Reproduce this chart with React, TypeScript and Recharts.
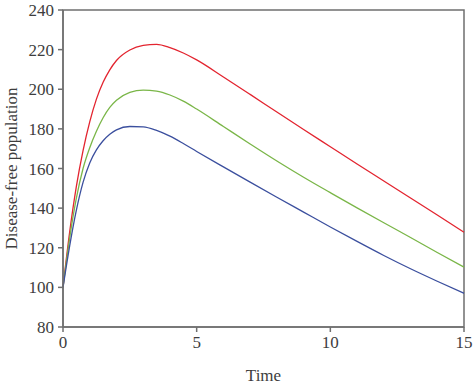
import React from "react";
import { LineChart, Line, XAxis, YAxis, ReferenceArea } from "recharts";

const times = [0, 0.25, 0.5, 0.75, 1.0, 1.25, 1.5, 1.75, 2.0, 2.5, 3.0, 3.5, 4.0, 4.5, 5, 6, 7, 8, 9, 10, 11, 12, 13, 14, 15];
const redSeries = [100, 128, 151, 169, 183.5, 195, 203.5, 209.8, 214.5, 219.8, 222.1, 222.6, 221, 218.3, 214.8, 206.2, 197.4, 188.5, 179.7, 171, 162.3, 153.7, 145.1, 136.5, 127.8];
const greenSeries = [100, 125, 145, 160, 170.5, 178.8, 185.6, 190.8, 194.4, 198.4, 199.6, 199.1, 197.1, 194, 190, 181.2, 172.4, 163.8, 155.6, 147.8, 140.1, 132.6, 125.2, 117.6, 110.2];
const blueSeries = [100, 121, 139, 153, 162.8, 169.4, 174, 177.3, 179.5, 181.2, 181, 179.2, 176.3, 172.6, 168.6, 160.8, 153.1, 145.5, 138, 130.5, 123.2, 116.1, 109.4, 103.1, 97];
const xTicks = [0, 5, 10, 15];
const yTicks = [80, 100, 120, 140, 160, 180, 200, 220, 240];

const data = times.map((t, i) => ({ t, red: redSeries[i], green: greenSeries[i], blue: blueSeries[i] }));

const FONT = "'Liberation Serif', 'Times New Roman', serif";
const AXIS = "#6f6f6f";
const TEXT = "#3d3d3d";

const YLabel = (props: any) => {
  const vb = props.viewBox || {};
  const cy = (vb.y || 0) + (vb.height || 0) / 2;
  const cx = 11;
  return (
    <text
      x={cx}
      y={cy}
      transform={`rotate(-90, ${cx}, ${cy})`}
      textAnchor="middle"
      dominantBaseline="central"
      fill={TEXT}
      fontFamily={FONT}
      fontSize={17}
    >
      Disease-free population
    </text>
  );
};

export default function App() {
  return (
    <div style={{ position: "absolute", left: 0, top: 0, background: "#fff" }}>
      <LineChart width={474} height={387} data={data} margin={{ top: 10, right: 10, bottom: 0, left: 0 }}>
        <ReferenceArea x1={0} x2={15} y1={80} y2={240} fill="none" stroke={AXIS} strokeWidth={1.5} />
        <XAxis
          dataKey="t"
          type="number"
          domain={[0, 15]}
          ticks={xTicks}
          height={60}
          stroke={AXIS}
          strokeWidth={1.5}
          tickSize={5}
          tickMargin={4}
          tick={{ fill: TEXT, fontFamily: FONT, fontSize: 17 }}
          label={{ value: "Time", position: "insideBottom", offset: 6, fill: TEXT, fontFamily: FONT, fontSize: 17 }}
        />
        <YAxis
          type="number"
          domain={[80, 240]}
          ticks={yTicks}
          width={63}
          stroke={AXIS}
          strokeWidth={1.5}
          tickSize={5}
          tickMargin={4}
          tick={{ fill: TEXT, fontFamily: FONT, fontSize: 17 }}
          label={<YLabel />}
        />
        <Line type="monotone" dataKey="red" stroke="#e3242f" strokeWidth={1.3} dot={false} isAnimationActive={false} />
        <Line type="monotone" dataKey="green" stroke="#7ab648" strokeWidth={1.3} dot={false} isAnimationActive={false} />
        <Line type="monotone" dataKey="blue" stroke="#3b4f9e" strokeWidth={1.3} dot={false} isAnimationActive={false} />
      </LineChart>
    </div>
  );
}
